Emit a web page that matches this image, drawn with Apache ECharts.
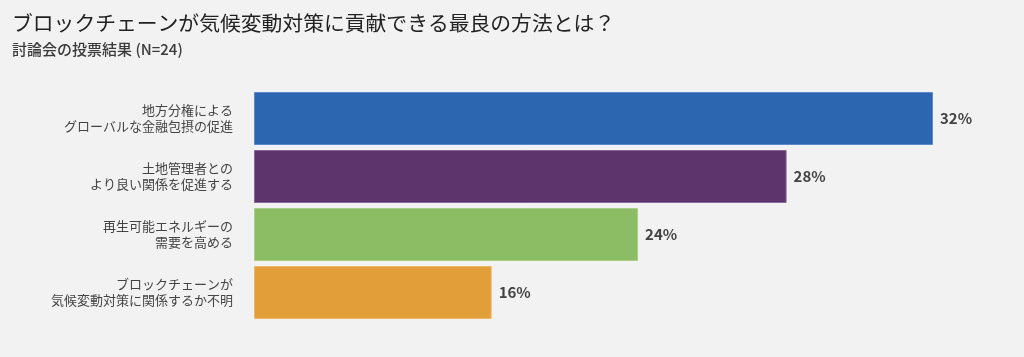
<!DOCTYPE html>
<html>
<head>
<meta charset="utf-8">
<script src="https://cdn.jsdelivr.net/npm/echarts@6/dist/echarts.min.js"></script>
<style>
html,body{margin:0;padding:0;background:#f2f2f2;}
#c{width:1024px;height:357px;}
</style>
</head>
<body>
<div id="c"></div>
<script>
const titleText = 'ブロックチェーンが気候変動対策に貢献できる最良の方法とは？';
const subtitleText = '討論会の投票結果 (N=24)';
const categories = [
  '地方分権による\nグローバルな金融包摂の促進',
  '土地管理者との\nより良い関係を促進する',
  '再生可能エネルギーの\n需要を高める',
  'ブロックチェーンが\n気候変動対策に関係するか不明'
];
// bar lengths as drawn in the reference (axis units)
const barValues = [32, 25.1, 18.1, 11.2];
// percentage labels printed next to the bars
const valueLabels = ['32%', '28%', '24%', '16%'];
const barColors = ['#2c66b0', '#5e346d', '#8cbc64', '#e29e38'];
const borderColors = ['#5a8acb', '#86679a', '#a9d08a', '#eeb868'];

const chart = echarts.init(document.getElementById('c'), null, {renderer: 'canvas'});
const font = '"Noto Sans CJK JP", "Noto Sans", sans-serif';
chart.setOption({
  backgroundColor: '#f2f2f2',
  textStyle: {fontFamily: font},
  title: [{
    text: titleText,
    left: 7, top: 8,
    textStyle: {fontFamily: font, fontSize: 20.8, fontWeight: 'normal', color: '#222'}
  }, {
    text: subtitleText,
    left: 7, top: 37,
    textStyle: {fontFamily: font, fontSize: 15, fontWeight: 500, color: '#3a3a3a'}
  }],
  grid: {left: 254, width: 679, top: 89.5, height: 232, containLabel: false},
  xAxis: {type: 'value', min: 0, max: 32, show: false},
  yAxis: {
    type: 'category', inverse: true, data: categories,
    axisLine: {show: false}, axisTick: {show: false},
    axisLabel: {
      margin: 21, align: 'right', fontSize: 13, lineHeight: 16,
      padding: [3, 0, 0, 0],
      color: '#444', fontFamily: font
    }
  },
  series: [{
    type: 'bar',
    data: barValues.map((v, i) => ({
      value: v,
      itemStyle: {color: barColors[i], borderColor: borderColors[i], borderWidth: 1}
    })),
    barWidth: 53,
    label: {
      show: true, position: 'right', distance: 7,
      formatter: p => valueLabels[p.dataIndex],
      fontSize: 15, fontWeight: 'bold', color: '#444', fontFamily: font
    },
    animation: false
  }],
  animation: false
});
</script>
</body>
</html>
